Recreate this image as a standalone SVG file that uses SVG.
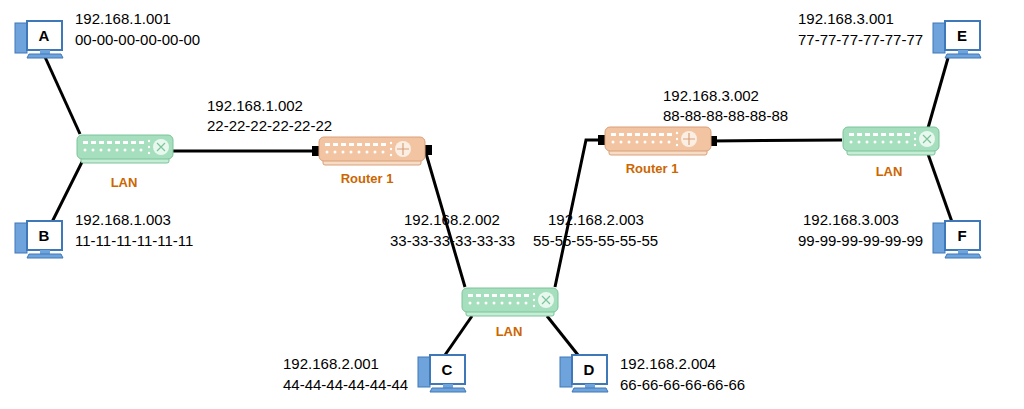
<svg xmlns="http://www.w3.org/2000/svg" xmlns:xlink="http://www.w3.org/1999/xlink" width="1024" height="409" viewBox="0 0 1024 409">
<style>
.t{font-family:"Liberation Sans",Arial,sans-serif;font-size:15px;fill:#000}
.lbl{font-family:"Liberation Sans",Arial,sans-serif;font-size:13px;font-weight:bold;fill:#cc6600;text-anchor:middle}
.pc{font-family:"Liberation Sans",Arial,sans-serif;font-size:15px;font-weight:bold;fill:#000;text-anchor:middle}
.ln{stroke:#000;stroke-width:3;fill:none}
</style>
<defs>
<g id="sw">
<rect x="4" y="22" width="88" height="6" rx="2" fill="#c6eed6" stroke="#7cc49a"/>
<rect x="0" y="0" width="96" height="24" rx="5" fill="#a5dfbd" stroke="#7cc49a"/>
<g fill="#fff"><rect x="6" y="6" width="5" height="3"/><rect x="14" y="6" width="5" height="3"/><rect x="22" y="6" width="5" height="3"/><rect x="30" y="6" width="5" height="3"/><rect x="38" y="6" width="5" height="3"/><rect x="46" y="6" width="5" height="3"/><rect x="54" y="6" width="5" height="3"/><rect x="62" y="6" width="5" height="3"/>
<circle cx="8" cy="15" r="1.5"/><circle cx="16" cy="15" r="1.5"/><circle cx="24" cy="15" r="1.5"/><circle cx="32" cy="15" r="1.5"/><circle cx="40" cy="15" r="1.5"/><circle cx="48" cy="15" r="1.5"/><circle cx="56" cy="15" r="1.5"/><circle cx="64" cy="15" r="1.5"/><circle cx="72" cy="6" r="1.2"/><circle cx="72" cy="12" r="1.2"/><circle cx="72" cy="18" r="1.2"/>
<circle cx="84" cy="12" r="8" fill="#e9f8ef"/></g>
<path d="M80 8 L88 16 M88 8 L80 16" stroke="#7cc49a" stroke-width="1.2"/>
</g>
<g id="rt">
<rect x="4" y="22" width="98" height="6" rx="2" fill="#f7dcc6" stroke="#d9a07a"/>
<rect x="0" y="0" width="106" height="24" rx="5" fill="#f2c4a2" stroke="#d9a07a"/>
<g fill="#fff"><rect x="6" y="6" width="5" height="3"/><rect x="14" y="6" width="5" height="3"/><rect x="22" y="6" width="5" height="3"/><rect x="30" y="6" width="5" height="3"/><rect x="38" y="6" width="5" height="3"/><rect x="46" y="6" width="5" height="3"/><rect x="54" y="6" width="5" height="3"/><rect x="62" y="6" width="5" height="3"/>
<circle cx="8" cy="15" r="1.5"/><circle cx="16" cy="15" r="1.5"/><circle cx="24" cy="15" r="1.5"/><circle cx="32" cy="15" r="1.5"/><circle cx="40" cy="15" r="1.5"/><circle cx="48" cy="15" r="1.5"/><circle cx="56" cy="15" r="1.5"/><circle cx="64" cy="15" r="1.5"/><circle cx="72" cy="6" r="1.2"/><circle cx="72" cy="12" r="1.2"/><circle cx="72" cy="18" r="1.2"/>
<circle cx="84" cy="12" r="8" fill="#fbeee3"/></g>
<path d="M84 6 V18 M78 12 H90" stroke="#d9a07a" stroke-width="1.2"/>
</g>
<g id="pc">
<rect x="0" y="2" width="12" height="30" fill="#6ea3dc" stroke="#3f78b8"/>
<rect x="12" y="0" width="35" height="29" fill="#fff" stroke="#3f78b8" stroke-width="2"/>
<rect x="25" y="29" width="10" height="4" fill="#6ea3dc"/>
<path d="M14 33 H46 L48 37 H12 Z" fill="#6ea3dc" stroke="#3f78b8"/>
</g>
</defs>
<g id="connectors">
<path class="ln" d="M45 57 L80 134"/>
<path class="ln" d="M82 162 L52 222"/>
<path class="ln" d="M172 151 L319 151"/>
<path class="ln" d="M425 150 L465 287"/>
<path class="ln" d="M555 287 L586 140 L605 140"/>
<path class="ln" d="M710 141 L842 140"/>
<path class="ln" d="M948 58 L928 128"/>
<path class="ln" d="M928 154 L952 222"/>
<path class="ln" d="M472 316 L445 355"/>
<path class="ln" d="M547 316 L578 355"/>
<rect x="312" y="146" width="8" height="10" fill="#000"/><rect x="424" y="145" width="8" height="10" fill="#000"/>
<rect x="598" y="135" width="8" height="10" fill="#000"/><rect x="709" y="136" width="8" height="10" fill="#000"/>
</g>
<g id="lan1"><use xlink:href="#sw" x="77" y="135"/><text class="lbl" x="124" y="187">LAN</text></g>
<g id="router1"><use xlink:href="#rt" x="319" y="137"/><text class="lbl" x="367" y="183">Router 1</text></g>
<g id="router2"><use xlink:href="#rt" x="605" y="127"/><text class="lbl" x="652" y="173">Router 1</text></g>
<g id="lan3"><use xlink:href="#sw" x="843" y="127"/><text class="lbl" x="889" y="176">LAN</text></g>
<g id="lan2"><use xlink:href="#sw" x="462" y="288"/><text class="lbl" x="509" y="336">LAN</text></g>
<g id="pcA"><use xlink:href="#pc" x="15" y="21"/><text class="pc" x="44" y="41">A</text></g>
<g id="pcB"><use xlink:href="#pc" x="15" y="221"/><text class="pc" x="44" y="241">B</text></g>
<g id="pcC"><use xlink:href="#pc" x="418" y="355"/><text class="pc" x="447" y="375">C</text></g>
<g id="pcD"><use xlink:href="#pc" x="560" y="355"/><text class="pc" x="589" y="375">D</text></g>
<g id="pcE"><use xlink:href="#pc" x="933" y="21"/><text class="pc" x="962" y="41">E</text></g>
<g id="pcF"><use xlink:href="#pc" x="933" y="221"/><text class="pc" x="962" y="241">F</text></g>
<g id="labels">
<text class="t" x="75" y="24">192.168.1.001</text><text class="t" x="75" y="45">00-00-00-00-00-00</text>
<text class="t" x="75" y="225">192.168.1.003</text><text class="t" x="75" y="246">11-11-11-11-11-11</text>
<text class="t" x="207" y="111">192.168.1.002</text><text class="t" x="207" y="131">22-22-22-22-22-22</text>
<text class="t" x="404" y="225">192.168.2.002</text><text class="t" x="390" y="246">33-33-33-33-33-33</text>
<text class="t" x="548" y="225">192.168.2.003</text><text class="t" x="533" y="246">55-55-55-55-55-55</text>
<text class="t" x="283" y="369">192.168.2.001</text><text class="t" x="283" y="390">44-44-44-44-44-44</text>
<text class="t" x="620" y="369">192.168.2.004</text><text class="t" x="620" y="390">66-66-66-66-66-66</text>
<text class="t" x="663" y="101">192.168.3.002</text><text class="t" x="663" y="121">88-88-88-88-88-88</text>
<text class="t" x="798" y="24">192.168.3.001</text><text class="t" x="798" y="45">77-77-77-77-77-77</text>
<text class="t" x="803" y="225">192.168.3.003</text><text class="t" x="798" y="246">99-99-99-99-99-99</text>
</g>
</svg>
